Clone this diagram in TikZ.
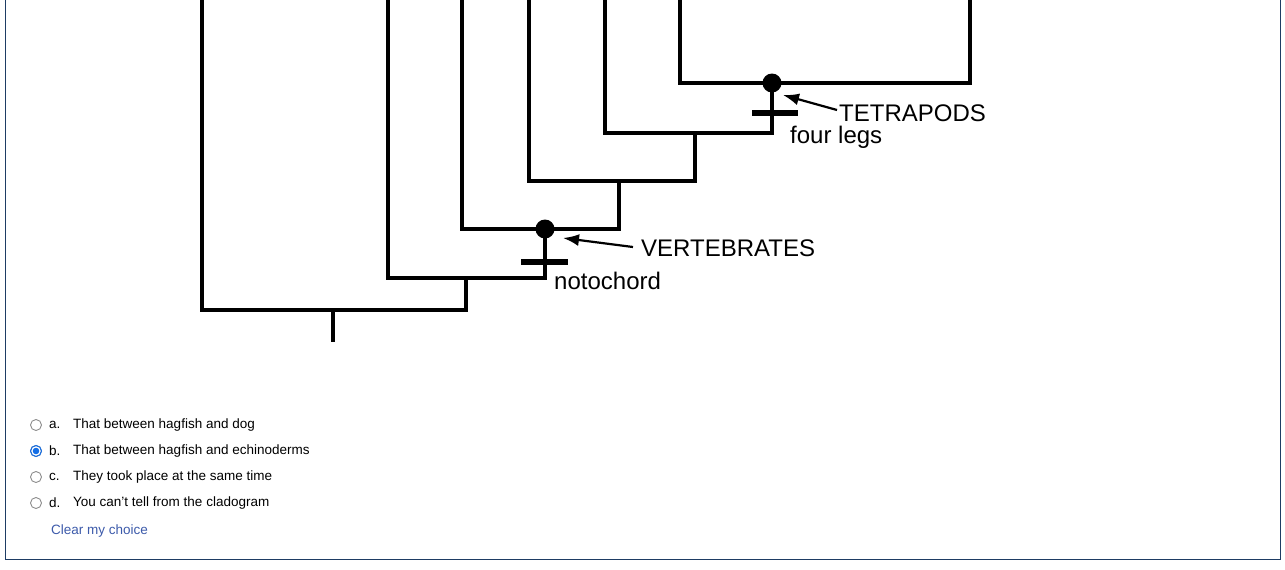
\documentclass[tikz,border=0pt]{standalone}
\usepackage{fontspec}
\setmainfont{Liberation Sans}
\usetikzlibrary{arrows.meta}
\begin{document}
\begin{tikzpicture}[x=1pt,y=-1pt,
  br/.style={line width=4pt,line cap=rect},
  bar/.style={line width=6pt},
  lab/.style={font=\fontsize{24}{24}\selectfont,inner sep=0pt},
  opt/.style={font=\fontsize{13.5}{13.5}\selectfont,inner sep=0pt,anchor=west},
  radio/.style={draw=gray!90,line width=0.9pt,circle,minimum size=11pt,inner sep=0pt},
  arr/.style={line width=2.2pt,-{Latex[length=16pt,width=12pt]}}]
\useasboundingbox (0,0) rectangle (1285,570);
\draw[color={rgb,255:red,30;green,60;blue,100},line width=1pt] (5,0) -- (5,559) -- (1280,559) -- (1280,0);
% cladogram
\draw[br] (333,340) -- (333,310);
\draw[br] (202,0) -- (202,310) -- (466,310) -- (466,278);
\draw[br] (388,0) -- (388,278) -- (545,278) -- (545,229);
\draw[br] (462,0) -- (462,229) -- (619,229) -- (619,181);
\draw[br] (529,0) -- (529,181) -- (695,181) -- (695,133);
\draw[br] (605,0) -- (605,133) -- (772,133) -- (772,83);
\draw[br] (680,0) -- (680,83) -- (970,83) -- (970,0);
\draw[bar] (521,262) -- (568,262);
\draw[bar] (752,113) -- (798,113);
\fill (545,229) circle (9.5pt);
\fill (772,83) circle (9.5pt);
\node[lab,anchor=west] (tet) at (839,113) {TETRAPODS};
\node[lab,anchor=west] (legs) at (790,137) {four legs};
\node[lab,anchor=west] (ver) at (641,248) {VERTEBRATES};
\node[lab,anchor=west] (not) at (554,281) {notochord};
\coordinate (tetp) at (783,95);
\coordinate (verp) at (563,238);
\draw[arr] (tet.west) ++(-2,-3) -- (tetp);
\draw[arr] (ver.west) ++(-8,-1) -- (verp);
% options
\foreach \y/\l/\t [count=\i] in {425/a./That between hagfish and dog,451/b./That between hagfish and echinoderms,477/c./They took place at the same time,503/d./You can't tell from the cladogram}{
  \node[radio] (r\i) at (36,\y) {};
  \node[opt] (l\i) at (49,\y) {\l};
  \node[opt] (t\i) at (73,\y) {\t};
}
\draw[color={rgb,255:red,20;green,110;blue,230},line width=1pt] (r2.center) circle (5.5pt);
\fill[color={rgb,255:red,20;green,110;blue,230}] (r2.center) circle (3.3pt);
\node[opt,text={rgb,255:red,60;green,90;blue,170}] (clr) at (51,531) {Clear my choice};
\end{tikzpicture}
\end{document}
